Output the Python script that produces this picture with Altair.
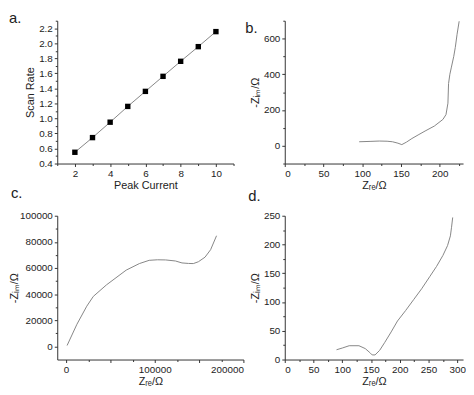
import altair as alt
import pandas as pd

# ---------------- data ----------------
# panel a: Scan Rate vs Peak Current
a_current = [2, 3, 4, 5, 6, 7, 8, 9, 10]
a_rate = [0.55, 0.745, 0.95, 1.16, 1.36, 1.56, 1.76, 1.955, 2.155]

# panel b: Nyquist plot
b_zre = [96, 110, 122, 132, 139, 146, 151, 157, 164, 172, 181, 193, 204, 208, 210.5, 211.3, 213, 215, 218, 220, 222.3, 225]
b_zim = [22, 24, 26, 25, 22, 14, 6, 20, 40, 60, 82, 110, 147, 174, 238, 348, 400, 440, 500, 550, 624, 697]

# panel c: Nyquist plot
c_zre = [1100, 12200, 23300, 30700, 45500, 67800, 82600, 93700, 103000, 112200, 123300,
         130700, 138000, 143500, 149200, 156700, 163000, 169700]
c_zim = [750, 17000, 30800, 38300, 47100, 58400, 63400, 65900, 66300, 66200, 65400,
         63900, 63500, 63400, 64800, 68300, 74000, 84700]

# panel d: Nyquist plot
d_zre = [90, 100, 112, 129, 140, 148, 152, 157, 165, 174, 185, 196, 210, 224, 238, 252, 264, 275, 283, 288, 290, 292]
d_zim = [17, 20, 24, 24, 19, 12, 8, 8, 16, 30, 48, 67, 85, 104, 123, 144, 162, 181, 198, 215, 230, 247]

panel_labels = ["a.", "b.", "c.", "d."]

FONT = "Liberation Sans"
AXC = "#333333"
TXT = "#222222"
LINEC = "#858585"


def frame(xs, ys):
    return pd.DataFrame({"i": list(range(len(xs))), "x": xs, "y": ys})


def main_axis(values, title, fmt=None, tp=2):
    kw = dict(values=values, title=title, grid=False, tickSize=3, labelPadding=2,
              titlePadding=tp, domainColor=AXC, tickColor=AXC, labelFontSize=10,
              titleFontSize=11, labelFont=FONT, titleFont=FONT,
              titleFontWeight="normal", labelColor=TXT, titleColor=TXT)
    if fmt:
        kw["format"] = fmt
    return alt.Axis(**kw)


def minor_axis(values, orient):
    return alt.Axis(values=values, orient=orient, labels=False, title=None,
                    domain=False, tickSize=2, tickColor=AXC, grid=False)


def panel(df, xdom, ydom, xaxis, yaxis, xminor, yminor, w, h, label, dx, dy,
          points=False):
    xs = alt.Scale(domain=xdom, nice=False, zero=False)
    ys = alt.Scale(domain=ydom, nice=False, zero=False)
    base = alt.Chart(df)
    line = base.mark_line(color=LINEC, strokeWidth=1, clip=True).encode(
        x=alt.X("x:Q", scale=xs, axis=xaxis),
        y=alt.Y("y:Q", scale=ys, axis=yaxis),
        order="i:Q",
    )
    layers = [line]
    if points:
        layers.append(base.mark_square(color="black", size=30, opacity=1).encode(
            x=alt.X("x:Q", scale=xs, axis=None),
            y=alt.Y("y:Q", scale=ys, axis=None),
        ))
    minor = base.mark_point(opacity=0).encode(
        x=alt.X("x:Q", scale=xs, axis=minor_axis(xminor, "bottom")),
        y=alt.Y("y:Q", scale=ys, axis=minor_axis(yminor, "left")),
    )
    layers.append(minor)
    tag = alt.Chart(pd.DataFrame({"t": [label]})).mark_text(
        align="left", baseline="alphabetic", font=FONT, fontSize=15, color=TXT
    ).encode(text="t:N", x=alt.value(dx), y=alt.value(dy))
    layers.append(tag)
    return alt.layer(*layers).resolve_axis(x="independent", y="independent").properties(
        width=w, height=h)


ZIM = "-Zᵢₘ/Ω"
ZRE = "Zᵣₑ/Ω"

pa = panel(frame(a_current, a_rate), [1, 11], [0.4, 2.3],
           main_axis([2, 4, 6, 8, 10], "Peak Current", tp=1),
           main_axis([0.4, 0.6, 0.8, 1.0, 1.2, 1.4, 1.6, 1.8, 2.0, 2.2], "Scan Rate", ".1f", tp=3),
           [1, 3, 5, 7, 9, 11], [0.5, 0.7, 0.9, 1.1, 1.3, 1.5, 1.7, 1.9, 2.1, 2.3],
           179, 145, panel_labels[0], -49, 2, points=True)

pb = panel(frame(b_zre, b_zim), [0, 230], [-100, 700],
           main_axis([0, 50, 100, 150, 200], ZRE, tp=1),
           main_axis([0, 200, 400, 600], ZIM, "d", tp=3),
           [25, 75, 125, 175, 225], [-100, 100, 300, 500, 700],
           181, 145, panel_labels[1], -40, 12)

pc = panel(frame(c_zre, c_zim), [-10000, 200000], [-10000, 100000],
           main_axis([0, 50000, 100000, 150000, 200000], ZRE, "d", tp=1),
           main_axis([0, 20000, 40000, 60000, 80000, 100000], ZIM, "d", tp=0),
           [25000, 75000, 125000, 175000], [10000, 30000, 50000, 70000, 90000],
           189, 146, panel_labels[2], -47, -18)

pd_ = panel(frame(d_zre, d_zim), [0, 310], [0, 250],
            main_axis([0, 50, 100, 150, 200, 250, 300], ZRE, tp=1),
            main_axis([0, 50, 100, 150, 200, 250], ZIM, "d", tp=3),
            [25, 75, 125, 175, 225, 275], [25, 75, 125, 175, 225],
            181, 146, panel_labels[3], -37, -15)

chart = alt.concat(pa, pb, pc, pd_, columns=2,
                   spacing={"row": 53, "column": 42},
                   bounds="flush").properties(padding=0).configure_view(stroke=None)

chart.save("out.html", embed_options={"renderer": "svg", "actions": False})
